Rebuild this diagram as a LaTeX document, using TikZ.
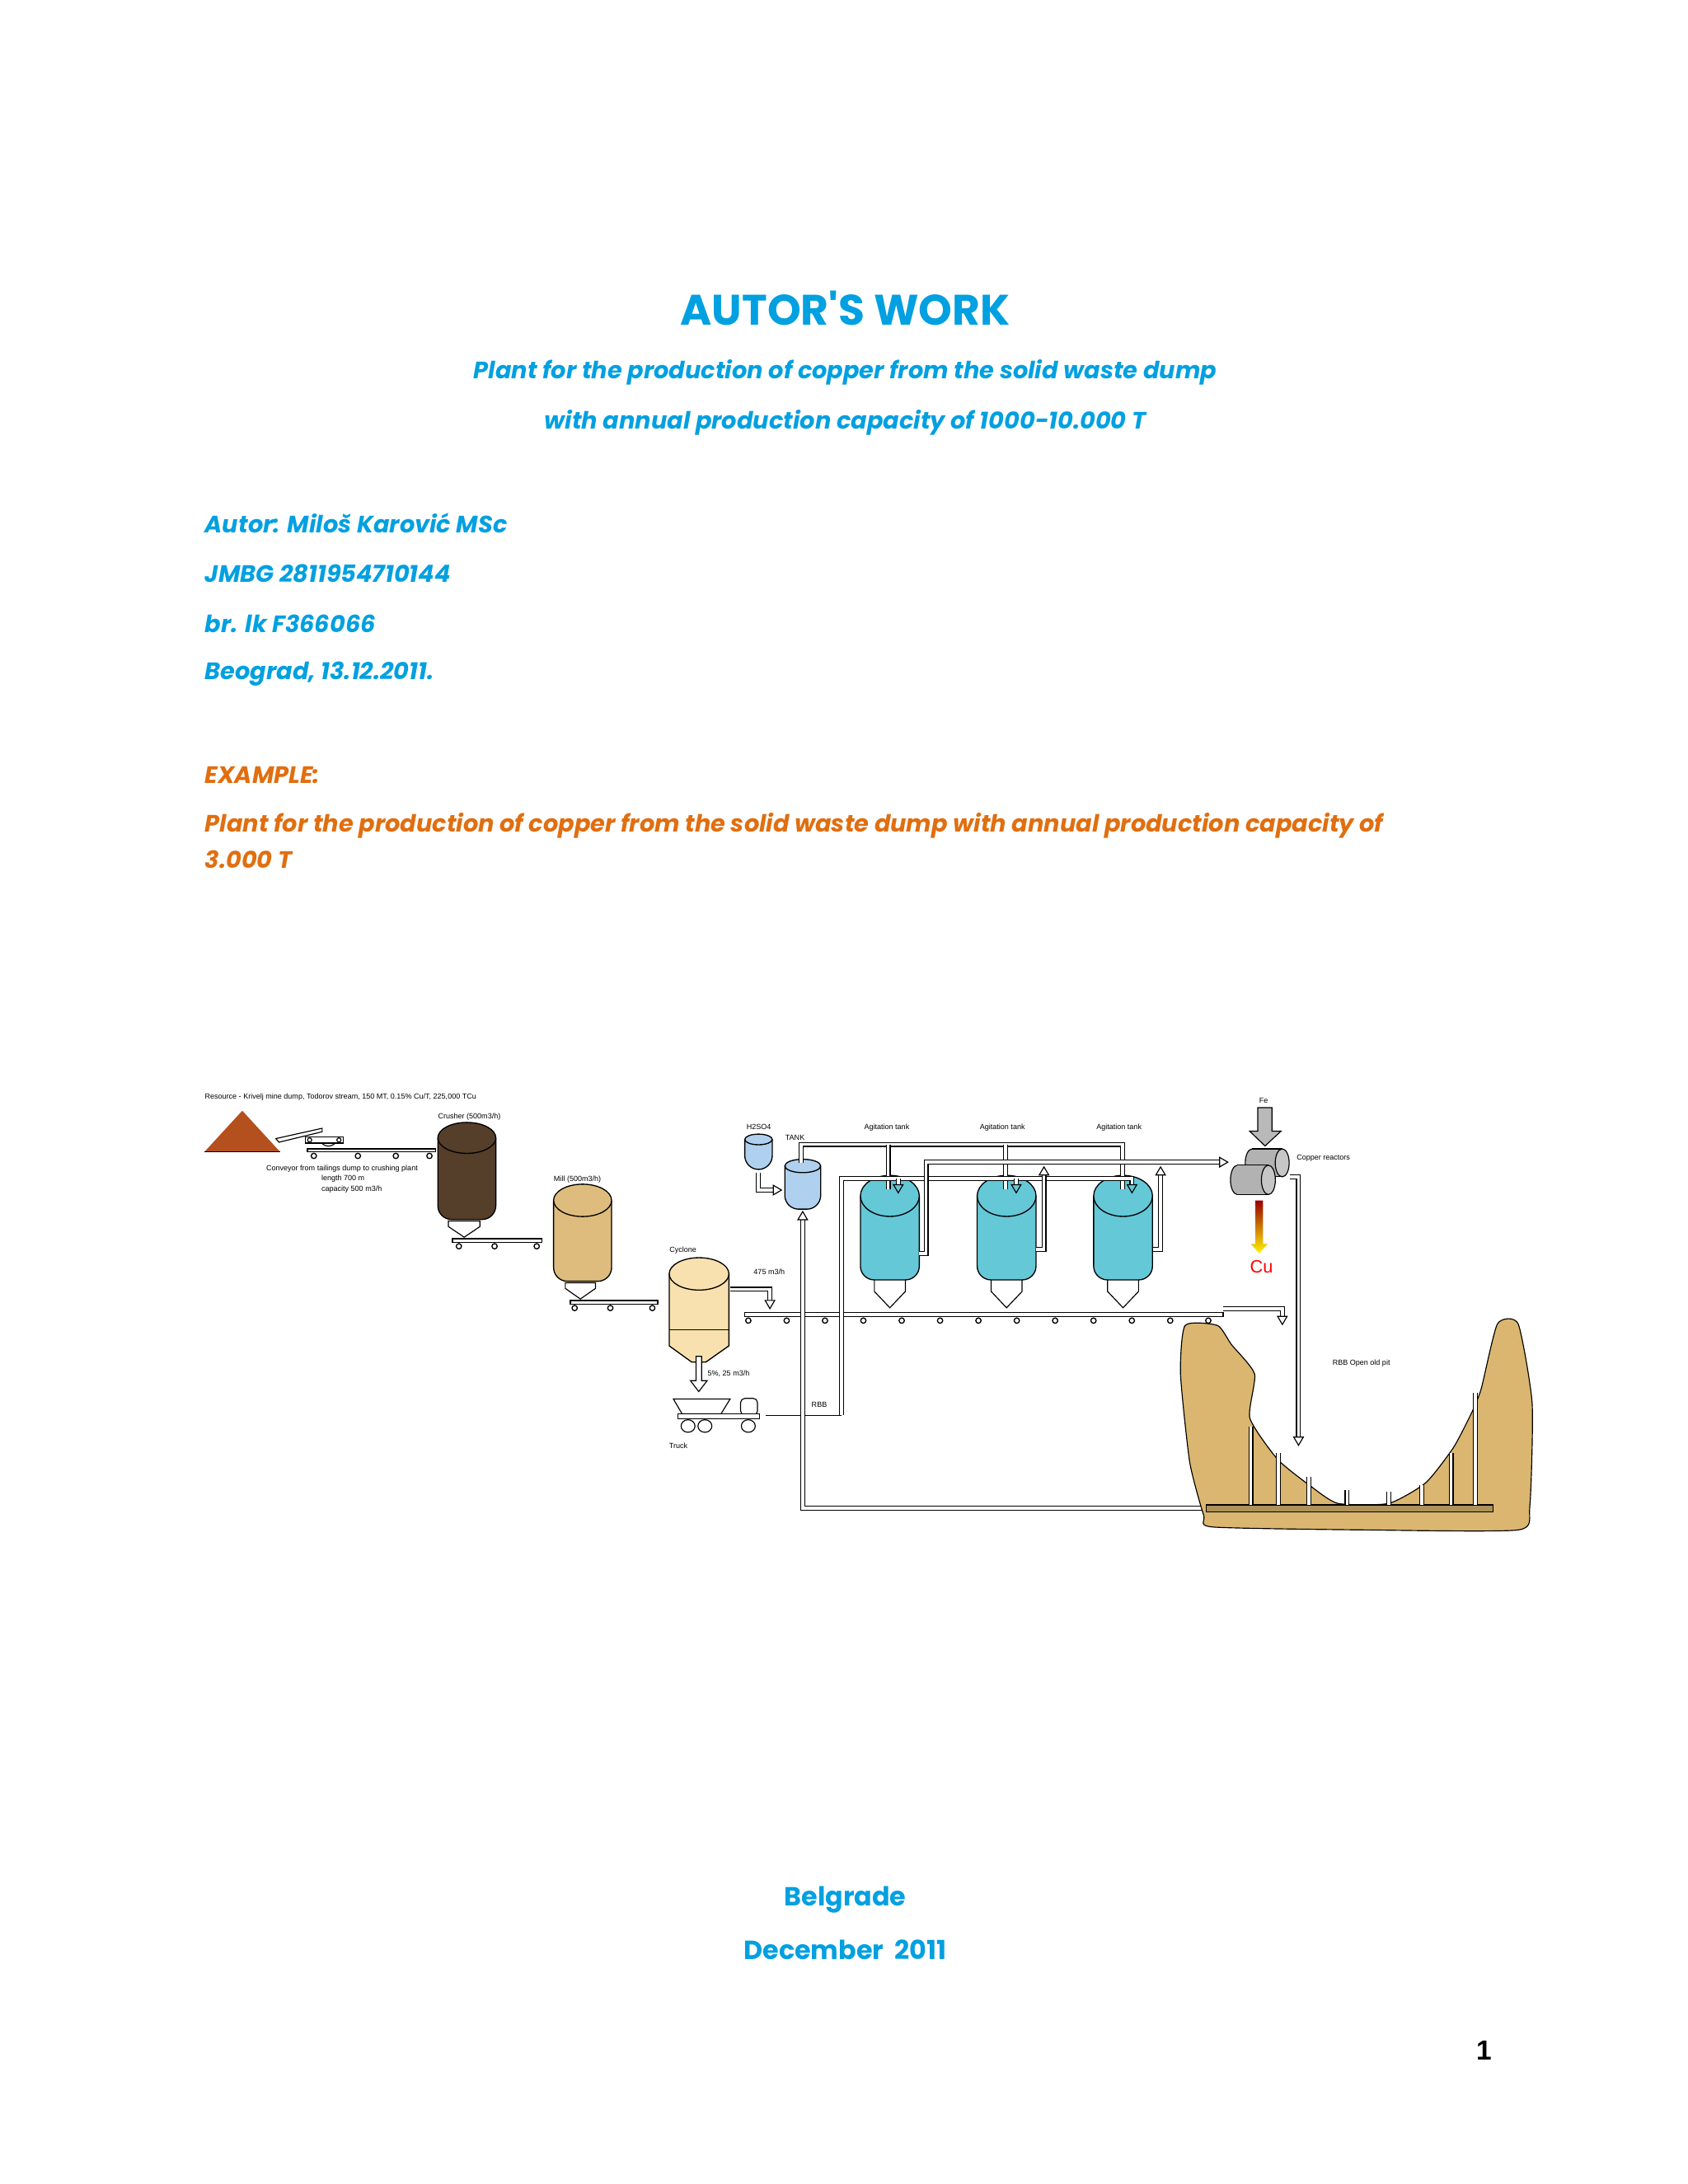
\documentclass[tikz,border=0pt]{standalone}
\usepackage{fontspec}
\usetikzlibrary{arrows.meta}
\newfontfamily\gothic{Poppins}
\newfontfamily\arial{Liberation Sans}
\definecolor{cyanT}{RGB}{0,160,225}
\definecolor{orangeT}{RGB}{225,110,15}
\definecolor{crush}{RGB}{85,62,42}
\definecolor{mill}{RGB}{222,188,125}
\definecolor{cycl}{RGB}{248,225,175}
\definecolor{water}{RGB}{100,200,215}
\definecolor{lblue}{RGB}{175,208,238}
\definecolor{pit}{RGB}{218,182,112}
\definecolor{pile}{RGB}{180,80,30}
\newcommand\cylin[6]{% xc rx ycenter ybottom ry color
 \draw[fill=#6,rounded corners=5pt] ({#1-#2},#3) -- ({#1-#2},#4) -- ({#1+#2},#4) -- ({#1+#2},#3);
 \draw[fill=#6] (#1,#3) ellipse [x radius=#2, y radius=#5];}
\newcommand\belt[5]{% x1 x2 y1 y2 list of rollers
 \draw[fill=white] (#1,#3) rectangle (#2,#4);
 \foreach \r in {#5} \draw (\r,{#4+2.9}) circle (1.9);}
\tikzset{
 big/.style={font=\gothic\bfseries\itshape\fontsize{8.6}{10}\selectfont},
 lab/.style={font=\arial\fontsize{2.7}{3.3}\selectfont, inner sep=0pt},
 pipe/.style={double=white, double distance=1.1pt, line width=0.35pt},
 tip/.style={-{Triangle[open,length=3.5pt,width=4pt]}},
 thin/.style={line width=0.35pt}
}
\begin{document}
\begin{tikzpicture}[x=0.5058pt,y=-0.5058pt,line width=0.4pt]
\path[use as bounding box] (0,0) rectangle (1210,1566);
% header texts
\node[text=cyanT,font=\gothic\bfseries\fontsize{15.5}{18}\selectfont] (title) at (606,221) {AUTOR'S WORK};
\node[text=cyanT,big] (s1) at (606,267) {Plant for the production of copper from the solid waste dump};
\node[text=cyanT,big] (s2) at (606,303) {with annual production capacity of 1000-10.000 T};
\node[text=cyanT,big,anchor=west] (a1) at (140,375) {Autor: Miloš Karović MSc};
\node[text=cyanT,big,anchor=west] (a2) at (140,411) {JMBG 2811954710144};
\node[text=cyanT,big,anchor=west] (a3) at (140,447) {br. lk F366066};
\node[text=cyanT,big,anchor=west] (a4) at (140,483) {Beograd, 13.12.2011.};
\node[text=orangeT,big,anchor=west] (e1) at (140,556) {EXAMPLE:};
\node[text=orangeT,big,anchor=west] (e2) at (140,592) {Plant for the production of copper from the solid waste dump with annual production capacity of};
\node[text=orangeT,big,anchor=west] (e3) at (140,616) {3.000 T};
\node[text=cyanT,font=\gothic\bfseries\fontsize{9.5}{11}\selectfont] (b1) at (606,1362) {Belgrade};
\node[text=cyanT,font=\gothic\bfseries\fontsize{9.5}{11}\selectfont] (b2) at (606,1398) {December\ \ 2011};
\node[font=\arial\bfseries\fontsize{10}{12}\selectfont] (pg) at (1064,1470) {1};

% ---------- diagram ----------
\node[lab,anchor=west] (res) at (146.5,786.5) {Resource - Krivelj mine dump, Todorov stream, 150 MT, 0.15\% Cu/T, 225,000 TCu};
% pile and excavator
\fill[pile] (146.6,825.9) -- (173.7,796.4) -- (200.8,825.9) -- cycle;
\draw[thin] (146.6,825.9) -- (200.8,825.9);
\draw[thin,fill=white] (197.8,816.4) -- (200,819) -- (231,811.5) -- (231,809) -- cycle;
\draw[thin,fill=white] (229,815.3) arc[start angle=180,end angle=0,x radius=6.5,y radius=6.5] -- cycle;
\draw[thin,fill=white] (218.9,815.3) rectangle (246,819.6);
\draw[thin] (222,817.4) circle (1.5) (243,817.4) circle (1.5);
\belt{220.4}{312.4}{823.8}{825.9}{225,256.6,283.8,307.9}
\node[lab] (cv) at (245.2,837.9) {Conveyor from tailings dump to crushing plant};
\node[lab,anchor=west] (cv2) at (230.1,845.3) {length 700 m};
\node[lab,anchor=west] (cv3) at (230.1,852.7) {capacity 500 m3/h};
% crusher
\node[lab] (crl) at (336.5,801) {Crusher (500m3/h)};
\cylin{334.7}{20.8}{815.9}{874.4}{11.1}{crush}
\draw[thin,fill=white] (321.5,875.5) -- (344.1,875.5) -- (344.1,879.5) -- (332.8,887.1) -- (321.5,879.5) -- cycle;
\belt{324.5}{388.7}{888.1}{890.7}{329,354.6,384.8}
% mill
\node[lab] (mll) at (414,845.5) {Mill (500m3/h)};
\cylin{417.7}{20.8}{860.7}{918.7}{11.6}{mill}
\draw[thin,fill=white] (405.3,919.8) -- (427,919.8) -- (427,923.8) -- (416.1,931.4) -- (405.3,923.8) -- cycle;
\belt{408.9}{471.6}{932.4}{935}{412,437.6,467.7}
% cyclone
\node[lab] (cyl) at (489.7,896.6) {Cyclone};
\draw[fill=cycl] (479.8,913.4) -- (479.8,965) -- (496,976.7) -- (506,976.7) -- (522.6,965) -- (522.6,913.4) -- cycle;
\draw[fill=cycl] (501.2,913.4) ellipse [x radius=21.4, y radius=11.6];
\draw[thin] (479.8,953.5) -- (522.6,953.5);
\node[lab,anchor=west] (c475) at (540,911.8) {475 m3/h};
\draw[pipe,tip] (523.5,924.5) -- (552,924.5) -- (552,939);
\draw[thin,fill=white] (499,972.5) -- (503,972.5) -- (503,990) -- (507,990) -- (501,997.8) -- (495,990) -- (499,990) -- cycle;
\node[lab,anchor=west] (c5) at (507,985.2) {5\%, 25 m3/h};
% truck
\draw[thin,fill=white] (482.8,1003.1) -- (523.5,1003.1) -- (517,1013.7) -- (489,1013.7) -- cycle;
\draw[thin,fill=white,rounded corners=1.5pt] (531,1002.7) rectangle (543.1,1014.7);
\draw[thin,fill=white] (485.8,1013.7) rectangle (544.6,1017.5);
\foreach \w in {493.3,505.4,536.5} \draw[thin,fill=white] (\w,1022.5) ellipse [x radius=5,y radius=4.5];
\node[lab] (trk) at (486.4,1036.9) {Truck};
\draw[thin] (549.1,1014.7) -- (603.4,1014.7);
\node[lab] (rbb) at (587.4,1007.3) {RBB};
% main conveyor
\belt{534}{876.9}{940.9}{944}{536.5,564,591.5,619,646.5,674,701.5,729,756.5,784,811.5,839,866.3}
\draw[pipe,tip] (876.9,938.6) -- (919.4,938.6) -- (919.4,950.4);
% H2SO4 and tank
\node[lab] (h2) at (544,808) {H2SO4};
\cylin{543.85}{9.85}{817}{838.5}{3.8}{lblue}
\draw[pipe,tip] (543.7,840.7) -- (543.7,853.3) -- (561,853.3);
\node[lab] (tkl) at (570,815.8) {TANK};
\cylin{575.55}{12.85}{836}{867}{4.8}{lblue}
% top pipe from tank
\draw[pipe] (574.5,834) -- (574.5,820.6) -- (805,820.6) -- (805,851);
\draw[pipe] (636.8,820.6) -- (636.8,851);
\draw[pipe] (721,820.6) -- (721,851);
% agitation tanks
\foreach \xc/\lx in {638/635.8,721.7/718.7,805.2/802.3}{
 \node[lab] at (\lx,808.4) {Agitation tank};
 \draw[thin,fill=white] ({\xc-11.1},917.7) -- ({\xc-11.1},926) -- (\xc,937.7) -- ({\xc+11.1},926) -- ({\xc+11.1},917.7);
 \cylin{\xc}{21.1}{857.5}{917.7}{14.7}{water}
}
\draw[pipe] (636.8,842) -- (636.8,853);
\draw[pipe] (721,842) -- (721,853);
\draw[pipe] (805,842) -- (805,853);
% third pipe (RBB feed)
\draw[pipe] (603.4,1014.7) -- (603.4,845) -- (811.6,845) -- (811.6,849);
\draw[pipe,tip] (811.6,847) -- (811.6,856);
\draw[pipe,tip] (644,845) -- (644,856);
\draw[pipe,tip] (728.6,845) -- (728.6,856);
% second pipe to reactors
\draw[pipe,tip] (659,898.7) -- (664,898.7) -- (664,833.3) -- (881,833.3);
\draw[pipe,tip] (743,896) -- (748.5,896) -- (748.5,836);
\draw[pipe,tip] (826.5,896) -- (832.1,896) -- (832.1,836);
% return pipe
\draw[pipe,tip] (1070.3,1081.6) -- (575.5,1081.6) -- (575.5,868);
% copper reactors
\node[lab] (fe) at (906,789.4) {Fe};
\draw[thin,fill=gray!55] (901.8,794.2) -- (912,794.2) -- (912,811.1) -- (918.4,811.1) -- (907,821.7) -- (896,811.1) -- (901.8,811.1) -- cycle;
\draw[thin,fill=gray!60] (897.8,833.8) ellipse [x radius=5, y radius=10];
\fill[gray!60] (897.8,823.8) rectangle (919.3,843.8);
\draw[thin] (897.8,823.8) -- (919.3,823.8) (897.8,843.8) -- (919.3,843.8);
\draw[thin,fill=gray!45] (919.3,833.8) ellipse [x radius=5, y radius=10];
\draw[thin,fill=gray!60] (887.2,846) ellipse [x radius=5, y radius=10.5];
\fill[gray!60] (887.2,835.5) rectangle (909.4,856.5);
\draw[thin] (887.2,835.5) -- (909.4,835.5) (887.2,856.5) -- (909.4,856.5);
\draw[thin,fill=gray!45] (909.4,846) ellipse [x radius=5, y radius=10.5];
\node[lab,anchor=west] (crr) at (929.3,830.5) {Copper reactors};
\shade[top color=red!60!black, bottom color=yellow!90!orange] (900,860.7) -- (905.5,860.7) -- (905.5,892) -- (908.8,892) -- (902.75,898.7) -- (896.8,892) -- (900,892) -- cycle;
\node[text=red,font=\arial\fontsize{6.5}{7}\selectfont] (cu) at (904.4,908.2) {Cu};
\draw[pipe,tip] (925,843.8) -- (931,843.8) -- (931,1037);
% pit
\draw[fill=pit,thin] plot[smooth cycle,tension=0.35] coordinates{
(849.7,950.4) (846.4,985.2) (853,1048.5) (863,1086.4) (869.6,1094.9) (980,1097) (1088.5,1097) (1096.8,1080.1) (1098.5,1006.3) (1088.5,949.3) (1073.6,949.3) (1062,995.7) (1055.3,1012.6) (1042.1,1037.9) (1022.2,1063.2) (995.6,1078) (959.2,1078) (939.3,1065.3) (916,1046.4) (896.1,1016.8) (899.5,985.2) (882.9,964.1) (872.9,950.4)};
\draw[thin,fill=pit!80!black] (865,1079) rectangle (1070.3,1084.3);
\foreach \wx/\wy in {896.8/1023.1,916.7/1042.1,938.3/1059,965.8/1068.5,995.6/1069.6,1019.5/1064.9,1040.4/1042.1,1057.6/998.9}
 \draw[pipe] (\wx,1079) -- (\wx,\wy);
\node[lab,anchor=west] (rbbp) at (955,977.8) {RBB Open old pit};
\end{tikzpicture}
\end{document}
